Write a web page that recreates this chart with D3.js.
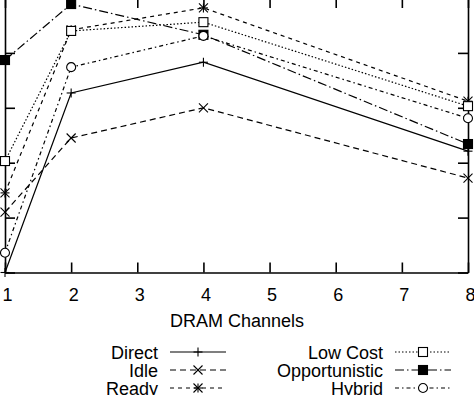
<!DOCTYPE html>
<html>
<head>
<meta charset="utf-8">
<script src="https://cdn.jsdelivr.net/npm/d3@7"></script>
<style>
  html, body { margin: 0; padding: 0; background: #fff; }
  svg { display: block; }
  text { font-family: "Liberation Sans", Arial, Helvetica, sans-serif; fill: #000; }
</style>
</head>
<body>
<div id="chart"></div>
<script>
const channels = [1, 2, 4, 8];
const xTicks = [1, 2, 3, 4, 5, 6, 7, 8];
const yTicks = [0, 1, 2, 3, 4, 5];

const direct = [0.0, 3.27, 3.83, 2.21];
const idle = [1.10, 2.45, 3.00, 1.72];
const ready = [1.45, 4.42, 4.82, 3.12];
const lowCost = [2.03, 4.40, 4.56, 3.03];
const opportunistic = [3.87, 4.89, 4.33, 2.34];
const hybrid = [0.36, 3.74, 4.31, 2.81];

const seriesNames = ["Direct", "Idle", "Ready", "Low Cost", "Opportunistic", "Hybrid"];

// line style + marker per series
const styles = {
    "Direct":        {dash: null,            marker: "plus"},
    "Idle":          {dash: "6,4",           marker: "cross"},
    "Ready":         {dash: "4,4",           marker: "star"},
    "Low Cost":      {dash: "1.5,2",         marker: "square"},
    "Opportunistic": {dash: "9,3,1.5,3",     marker: "filled"},
    "Hybrid":        {dash: "4,3,1.5,3",     marker: "circle"}
}

const series = [
    {name: "Direct", values: direct},
    {name: "Idle", values: idle},
    {name: "Ready", values: ready},
    {name: "Low Cost", values: lowCost},
    {name: "Opportunistic", values: opportunistic},
    {name: "Hybrid", values: hybrid}
]

const width = 474, height = 395
const plot = {left: 5, right: 468, top: -2, bottom: 272.5}

const svg = d3.select('#chart').append('svg')
    .attr('width', width)
    .attr('height', height)

const x = d3.scaleLinear()
    .domain([1, 8])
    .range([plot.left, plot.right])

const y = d3.scaleLinear()
    .domain([0, 5])
    .range([plot.bottom, plot.top])

// axes: ticks point inward on every side
svg.append('g')
    .attr('transform', 'translate(0,' + plot.bottom + ')')
    .call(d3.axisBottom(x).tickValues(xTicks).tickFormat(d3.format('d')).tickSize(-10).tickPadding(16).tickSizeOuter(0))
svg.append('g')
    .attr('transform', 'translate(0,' + plot.top + ')')
    .call(d3.axisTop(x).tickValues(xTicks).tickSize(-10).tickFormat('').tickSizeOuter(0))
svg.append('g')
    .attr('transform', 'translate(' + plot.left + ',0)')
    .call(d3.axisLeft(y).tickValues(yTicks).tickSize(-10).tickFormat('').tickSizeOuter(0))
svg.append('g')
    .attr('transform', 'translate(' + plot.right + ',0)')
    .call(d3.axisRight(y).tickValues(yTicks).tickSize(-10).tickFormat('').tickSizeOuter(0))

svg.selectAll('.domain, .tick line')
    .attr('stroke', '#000')
    .attr('stroke-width', 1.6)
svg.selectAll('.tick text')
    .attr('dx', 2)
    .style('font-size', '18px')

svg.append('text')
    .attr('x', 237)
    .attr('y', 327)
    .attr('text-anchor', 'middle')
    .style('font-size', '18px')
    .text('DRAM Channels')

function drawMarker(g, type, cx, cy) {
    const s = 4.5
    const m = g.append('g')
        .attr('transform', 'translate(' + cx + ',' + cy + ')')
        .attr('stroke', '#000')
        .attr('stroke-width', 1.1)
        .attr('fill', 'none')
    const seg = (x1, y1, x2, y2) => m.append('line')
        .attr('x1', x1).attr('y1', y1).attr('x2', x2).attr('y2', y2)
    if (type === 'plus' || type === 'star') {
        seg(-s, 0, s, 0)
        seg(0, -s, 0, s)
    }
    if (type === 'cross' || type === 'star') {
        seg(-s, -s, s, s)
        seg(-s, s, s, -s)
    }
    if (type === 'square' || type === 'filled') {
        m.append('rect')
            .attr('x', -s).attr('y', -s)
            .attr('width', 2 * s).attr('height', 2 * s)
            .attr('fill', type === 'filled' ? '#000' : '#fff')
    }
    if (type === 'circle') {
        m.append('circle').attr('r', s).attr('fill', '#fff')
    }
}

const line = d3.line()
    .x((d, i) => x(channels[i]))
    .y(d => y(d))

const lines = svg.append('g')
series.forEach(s => {
    lines.append('path')
        .datum(s.values)
        .attr('d', line)
        .attr('fill', 'none')
        .attr('stroke', '#000')
        .attr('stroke-width', 1.2)
        .attr('stroke-dasharray', styles[s.name].dash)
})
series.forEach(s => {
    s.values.forEach((v, i) => drawMarker(lines, styles[s.name].marker, x(channels[i]), y(v)))
})

// legend, two columns of three
const legend = svg.append('g')
seriesNames.forEach((name, i) => {
    const col = Math.floor(i / 3), row = i % 3
    const textX = col === 0 ? 158 : 383
    const cy = 352 + row * 18
    legend.append('text')
        .attr('x', textX)
        .attr('y', cy + 6.5)
        .attr('text-anchor', 'end')
        .style('font-size', '18px')
        .text(name)
    legend.append('line')
        .attr('x1', textX + 12).attr('x2', textX + 68)
        .attr('y1', cy).attr('y2', cy)
        .attr('stroke', '#000')
        .attr('stroke-width', 1.2)
        .attr('stroke-dasharray', styles[name].dash)
    drawMarker(legend, styles[name].marker, textX + 40, cy)
})
</script>
</body>
</html>
